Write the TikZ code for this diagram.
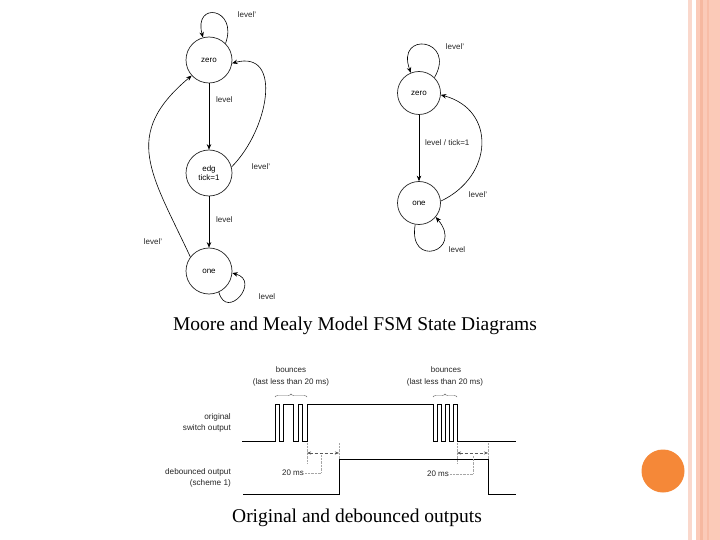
\documentclass[tikz,border=0pt]{standalone}
\usepackage{fontspec}
\setmainfont{Liberation Serif}
\setsansfont{Liberation Sans}
\usetikzlibrary{arrows.meta,decorations.pathreplacing}
\definecolor{bandpink}{RGB}{251,202,184}
\definecolor{banddark}{RGB}{246,184,160}
\definecolor{stripepink}{RGB}{250,216,204}
\definecolor{dotorange}{RGB}{245,136,56}

\begin{document}
\begin{tikzpicture}[x=1pt,y=1pt,state node/.style={circle, draw=black!85, line width=0.7pt, minimum size=46pt, inner sep=0pt, align=center, font=\fontsize{8}{9.5}\selectfont\sffamily},label node/.style={font=\fontsize{8}{9.5}\selectfont\sffamily, text=black!85, inner sep=1pt},signal label/.style={font=\fontsize{8.2}{11}\selectfont\sffamily, text=black!85, align=right, inner sep=0pt, anchor=east},caption node/.style={font=\fontsize{19.5}{22}\selectfont, inner sep=0pt},trans/.style={line width=0.6pt, -{Stealth[length=5.5pt,width=4.5pt]}},wave/.style={line width=0.7pt, line join=miter},dim arrow/.style={black!65, line width=0.4pt, densely dashed, {Stealth[length=4pt,width=3pt]}-{Stealth[length=4pt,width=3pt]}},guide/.style={black!35, line width=0.4pt, densely dotted},brace line/.style={black!60, line width=0.4pt, decorate, decoration={brace, amplitude=3pt}}]%
  % slide background%
\fill[white] (0,0) rectangle (720,-540);%
\fill[stripepink] (688,0) rectangle (692,-540);%
\fill[bandpink] (696,0) rectangle (720,-540);%
\fill[banddark] (700,0) rectangle (703,-540);%
\fill[banddark!70!bandpink] (707,0) rectangle (709,-540);%
\fill[dotorange] (663,-471) circle (21.5);%
  % Moore model%
\node[state node] (moore-zero) at (209,-60) {zero};%
\node[state node] (moore-edg) at (209,-173) {edg\\tick=1};%
\node[state node] (moore-one) at (209,-271) {one};%
\draw[trans] (moore-zero) -- (moore-edg);%
\draw[trans] (moore-edg) -- (moore-one);%
\draw[trans] (moore-zero.45) to[out=70,in=105,distance=38pt] (moore-zero.105);%
\draw[trans] (moore-edg.15) to[out=45,in=15,looseness=1.3] (moore-zero.-8);%
\draw[trans] (moore-one.143) to[out=115,in=220,looseness=1.3] (moore-zero.222);%
\draw[trans] (moore-one.-65) to[out=-75,in=-15,distance=30pt] (moore-one.-5);%
\node[label node] (moore-l1) at (247,-15) {level'};%
\node[label node, anchor=west] (moore-l2) at (215,-100) {level};%
\node[label node] (moore-l3) at (261,-167) {level'};%
\node[label node, anchor=west] (moore-l4) at (215,-220) {level};%
\node[label node] (moore-l5) at (153,-242) {level'};%
\node[label node] (moore-l6) at (267,-297) {level};%
  % Mealy model%
\node[state node, minimum size=43pt] (mealy-zero) at (419,-93) {zero};%
\node[state node, minimum size=43pt] (mealy-one) at (419,-203) {one};%
\draw[trans] (mealy-zero) -- (mealy-one);%
\draw[trans] (mealy-zero.45) to[out=60,in=110,distance=45pt] (mealy-zero.112);%
\draw[trans] (mealy-one.5) to[out=25,in=-15,looseness=1.4] (mealy-zero.-5);%
\draw[trans] (mealy-one.-100) to[out=-100,in=-50,distance=45pt] (mealy-one.-40);%
\node[label node] (mealy-l1) at (455,-47) {level'};%
\node[label node, anchor=west] (mealy-l2) at (424,-143) {level / tick=1};%
\node[label node] (mealy-l3) at (478,-195) {level'};%
\node[label node] (mealy-l4) at (457,-250) {level};%
\node[caption node] (fsm-caption) at (355,-326) {Moore and Mealy Model FSM State Diagrams};%
  % bounces%
\node[label node] (bounce-a) at (291,-370) {bounces};%
\node[label node] (bounce-a-note) at (291,-382) {(last less than 20 ms)};%
\node[label node] (bounce-b) at (446,-370) {bounces};%
\node[label node] (bounce-b-note) at (445,-382) {(last less than 20 ms)};%
\draw[brace line] (275,-397) -- (307,-397);%
\draw[brace line] (433,-397) -- (457,-397);%
  % original switch output%
\node[signal label] (orig-label) at (231,-422.5) {original\\switch output};%
\draw[wave] (242,-441) -- (275,-441) -- (275,-404) -- (279,-404) -- (279,-441) -- (283,-441) -- (283,-404) -- (293,-404) -- (293,-441) -- (298,-441) -- (298,-404) -- (302,-404) -- (302,-441) -- (307,-441) -- (307,-404) -- (433,-404) -- (433,-441) -- (437,-441) -- (437,-404) -- (441,-404) -- (441,-441) -- (445,-441) -- (445,-404) -- (449,-404) -- (449,-441) -- (453,-441) -- (453,-404) -- (457,-404) -- (457,-441) -- (516,-441);%
  % debounced output%
\node[signal label] (deb-label) at (231,-477.5) {debounced output\\(scheme 1)};%
\draw[wave] (243,-494) -- (339,-494) -- (339,-459) -- (488,-459) -- (488,-494) -- (516,-494);%
  % 20 ms delays%
\coordinate (settle-a) at (307,-453);%
\coordinate (rise-a) at (339,-453);%
\coordinate (settle-b) at (457,-453);%
\coordinate (fall-b) at (488,-453);%
\draw[guide] (307,-443) -- (307,-463);%
\draw[guide] (339,-443) -- (339,-459);%
\draw[guide] (457,-443) -- (457,-463);%
\draw[guide] (488,-443) -- (488,-459);%
\draw[dim arrow] (settle-a) -- (rise-a);%
\draw[dim arrow] (settle-b) -- (fall-b);%
\node[label node] (delay-a) at (293,-473) {20 ms};%
\node[label node] (delay-b) at (438,-474) {20 ms};%
\draw[guide] (delay-a.east) -- (321,-473) -- (321,-455);%
\draw[guide] (delay-b.east) -- (473,-474) -- (473,-455);%
\node[caption node] (deb-caption) at (357,-518) {Original and debounced outputs};%
\path[use as bounding box] (0,0) rectangle (720,-540);%
\end{tikzpicture}
\end{document}
